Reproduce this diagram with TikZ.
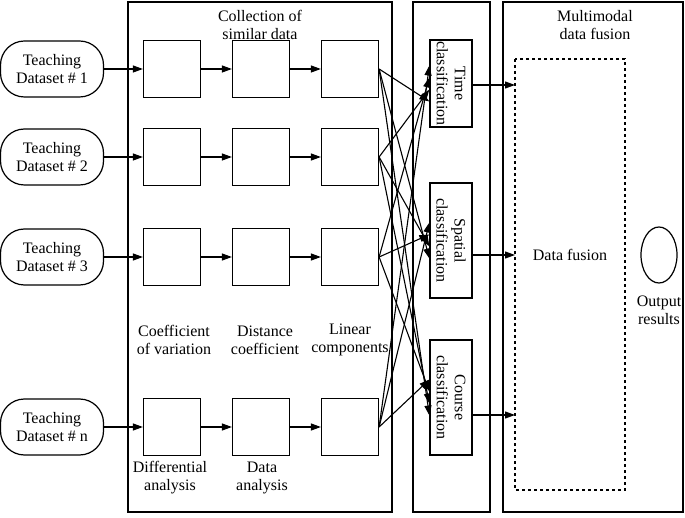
\documentclass[tikz,border=0pt]{standalone}
\usepackage{fontspec}
\setmainfont{Liberation Serif}
\usetikzlibrary{arrows.meta,shapes.geometric}
\tikzset{%
dataset/.style={draw,line width=1.2pt,rounded corners=24pt,minimum width=103pt,minimum height=56pt,align=center,inner sep=1pt},
stepbox/.style={draw,line width=1.2pt,minimum size=57pt,inner sep=0},
cls/.style={draw,line width=1.2pt,minimum width=42pt,align=center,inner sep=1pt},
lbl/.style={align=center,font=\fontsize{16}{18}\selectfont},
arr/.style={line width=1.1pt,-{Triangle[length=10pt,width=7pt]}}
}
\begin{document}
\begin{tikzpicture}[x=1pt,y=-1pt,font=\fontsize{16}{18}\selectfont]
\useasboundingbox (0,0) rectangle (685,518);
% panels
\draw[line width=1.2pt] (128,2) rectangle (392,512);
\draw[line width=1.2pt] (413,2) rectangle (490,512);
\draw[line width=1.2pt] (503,2) rectangle (683,512);
\node[lbl] (t1) at (260,25) {Collection of\\similar data};
\node[lbl] (t2) at (595,25) {Multimodal\\data fusion};
% classification boxes
\node[cls,minimum height=87pt] (c1) at (451,83.5) {};
\node[lbl,rotate=-90] (c1t) at (c1) {Time\\classification};
\node[cls,minimum height=115pt] (c2) at (451,240.5) {};
\node[lbl,rotate=-90] (c2t) at (c2) {Spatial\\classification};
\node[cls,minimum height=115pt] (c3) at (451,397.5) {};
\node[lbl,rotate=-90] (c3t) at (c3) {Course\\classification};
% fusion
\draw[line width=1.2pt,dashed] (515,59) rectangle (625,490);
\node[lbl] (df) at (570,255) {Data fusion};
\node[draw,line width=1.2pt,ellipse,minimum width=36pt,minimum height=56pt] (out) at (659,255) {};
\node[lbl] (outt) at (659,310) {Output\\results};
% rows
\foreach \i/\y/\n in {1/69/1,2/157/2,3/257/3,4/427/n}{
  \node[dataset] (d\i) at (52,\y) {Teaching\\Dataset \# \n};
  \node[stepbox] (a\i) at (172,\y) {};
  \node[stepbox] (b\i) at (261,\y) {};
  \node[stepbox] (l\i) at (350,\y) {};
  \draw[arr] (d\i) -- (a\i);
  \draw[arr] (a\i) -- (b\i);
  \draw[arr] (b\i) -- (l\i);
}
\foreach \i/\o in {1/-18,2/-6,3/6,4/18}{
  \foreach \j in {1,2,3}{
    \draw[arr] (l\i.east) -- ([yshift=\o pt]c\j.west);
  }
}
\foreach \j/\y in {1/85,2/255,3/415}{
  \coordinate (e\j) at (515,\y);
  \draw[arr] (c\j.east |- e\j) -- (e\j);
}
\node[lbl] (n1) at (174,340) {Coefficient\\of variation};
\node[lbl] (n2) at (265,340) {Distance\\coefficient};
\node[lbl] (n3) at (350,340) {Linear\\components};
\node[lbl] (n4) at (170,478) {Differential\\analysis};
\node[lbl] (n5) at (262,478) {Data\\analysis};
\end{tikzpicture}
\end{document}
